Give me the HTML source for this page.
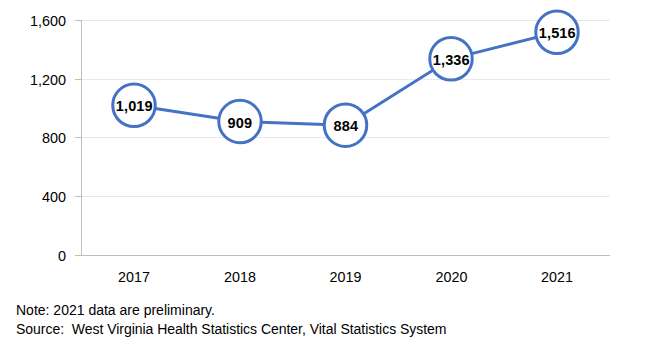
<!DOCTYPE html>
<html><head><meta charset="utf-8">
<style>
html,body{margin:0;padding:0;background:#fff;width:659px;height:352px;overflow:hidden}
svg{display:block}
text{font-family:"Liberation Sans",sans-serif}
</style></head><body>
<svg width="659" height="352" viewBox="0 0 659 352" xmlns="http://www.w3.org/2000/svg">
<rect width="659" height="352" fill="#fff"/>
<g stroke="#e9e9e9" stroke-width="1" shape-rendering="crispEdges">
<line x1="81" y1="20.5" x2="610" y2="20.5"/>
<line x1="81" y1="79.5" x2="610" y2="79.5"/>
<line x1="81" y1="137.5" x2="610" y2="137.5"/>
<line x1="81" y1="196.5" x2="610" y2="196.5"/>
</g>
<g stroke="#bfbfbf" stroke-width="1" shape-rendering="crispEdges">
<line x1="81.5" y1="20" x2="81.5" y2="256"/>
<line x1="75" y1="255.5" x2="610" y2="255.5"/>
<line x1="75" y1="20.5" x2="81" y2="20.5"/>
<line x1="75" y1="79.5" x2="81" y2="79.5"/>
<line x1="75" y1="137.5" x2="81" y2="137.5"/>
<line x1="75" y1="196.5" x2="81" y2="196.5"/>
</g>
<g font-size="14.4" fill="#000" text-anchor="end">
<text x="66" y="25.7">1,600</text>
<text x="66" y="84.7">1,200</text>
<text x="66" y="142.7">800</text>
<text x="66" y="201.7">400</text>
<text x="66" y="260.7">0</text>
</g>
<g font-size="14.3" fill="#000" text-anchor="middle">
<text x="134" y="282">2017</text>
<text x="240" y="282">2018</text>
<text x="345.5" y="282">2019</text>
<text x="451.5" y="282">2020</text>
<text x="557" y="282">2021</text>
</g>
<polyline points="134,105.3 240,121.5 345.5,125.2 451,58.8 557,32.3" fill="none" stroke="#4472c4" stroke-width="3"/>
<g fill="#fff" stroke="#4472c4" stroke-width="3">
<circle cx="134" cy="105.3" r="21.25"/>
<circle cx="240" cy="121.5" r="21.25"/>
<circle cx="345.5" cy="125.2" r="21.25"/>
<circle cx="451" cy="58.8" r="21.25"/>
<circle cx="557" cy="32.3" r="21.25"/>
</g>
<g font-size="14.5" font-weight="bold" fill="#000" text-anchor="middle" letter-spacing="0.15">
<text x="134.3" y="111.3">1,019</text>
<text x="239.8" y="127.8">909</text>
<text x="345.8" y="131.3">884</text>
<text x="451.3" y="64.8">1,336</text>
<text x="557.3" y="38.3">1,516</text>
</g>
<g font-size="14" fill="#000" style="white-space:pre">
<text x="16" y="315">Note: 2021 data are preliminary.</text>
<text x="16" y="334" letter-spacing="-0.03">Source:&#160; West Virginia Health Statistics Center, Vital Statistics System</text>
</g>
</svg>
</body></html>
